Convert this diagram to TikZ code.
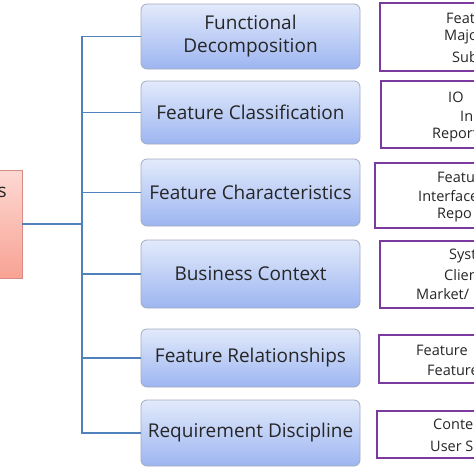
\documentclass[tikz,border=0pt]{standalone}
\usepackage{fontspec}
\setmainfont{Open Sans}
\definecolor{linkblue}{HTML}{4F81BD}
\definecolor{topicline}{HTML}{A3ABBE}
\definecolor{topictop}{HTML}{E2EAFB}
\definecolor{topicbot}{HTML}{9DB5F1}
\definecolor{rootline}{HTML}{D88A84}
\definecolor{roottop}{HTML}{FCD9D3}
\definecolor{rootbot}{HTML}{F8A293}
\definecolor{detailline}{HTML}{7A3A9E}
\begin{document}
\begin{tikzpicture}[
    x=1pt, y=-1pt,
    root/.style={
      rectangle,
      draw=rootline,
      line width=0.8pt,
      top color=roottop,
      bottom color=rootbot,
      minimum width=90pt,
      minimum height=108pt
    },
    topic/.style={
      rectangle,
      rounded corners=6pt,
      draw=topicline,
      line width=0.8pt,
      top color=topictop,
      bottom color=topicbot,
      minimum width=219pt,
      inner sep=0pt,
      align=center,
      text=black!85,
      font=\fontsize{19}{23}\selectfont
    },
    detail/.style={
      rectangle,
      draw=detailline,
      line width=1.8pt,
      fill=white,
      anchor=west,
      minimum width=200pt
    },
    word/.style={
      anchor=west,
      inner sep=0pt,
      text=black!85,
      font=\fontsize{14.5}{17}\selectfont
    },
    link/.style={
      draw=linkblue,
      line width=1.3pt
    }
  ]

    \useasboundingbox (0,0) rectangle (474,474);
    \clip (0,0) rectangle (474,474);

    % Root box (cut off at the left edge)
    \node[root] (root) at (-23,224) {};
    \node[anchor=east, inner sep=0pt, text=black!85, font=\fontsize{19}{23}\selectfont] (rootword) at (7,192) {s};

    % Topic boxes
    \foreach \name/\y/\h/\txt in {
        f1/36.5/65/{Functional\\Decomposition},
        f2/112.5/63/{Feature Classification},
        f3/192.5/67/{Feature Characteristics},
        f4/274/68/{Business Context},
        f5/358/58/{Feature Relationships},
        f6/433/66/{Requirement Discipline}} {
      \node[topic, minimum height=\h] (\name) at (250.5,\y) {\txt};
    }

    % Trunk and branches
    \coordinate (trunk) at (82,224);
    \foreach \name in {f1,f2,f3,f4,f5,f6} {
      \draw[link] (root.east) -- (trunk) |- (\name.west);
    }

    % Detail boxes (cut off at the right edge)
    \foreach \name/\x/\y/\h in {
        d1/379/37/68,
        d2/380/114.5/67,
        d3/374/195.5/65,
        d4/379/274.5/67,
        d5/378/359/48,
        d6/376/434.5/47} {
      \node[detail, minimum height=\h] (\name) at (\x,\y) {};
    }

    % Detail words
    \foreach \name/\x/\y/\txt in {
        w1/446/18/Featu, w2/444/37/Majo, w3/452/57/Sub,
        w4/448/97/IO, w5/460/116/In, w6/432/135/Report,
        w7/437/177/Featu, w8/418/196/Interface, w9/437/215/Repo,
        w10/449/256/Syst, w11/444/275/Clien, w12/416/294/{Market/},
        w13/416/350/Feature, w14/427/370/Feature,
        w15/433/424/Conte, w16/430/446/User S} {
      \node[word] (\name) at (\x,\y) {\txt};
    }

  \end{tikzpicture}
\end{document}
